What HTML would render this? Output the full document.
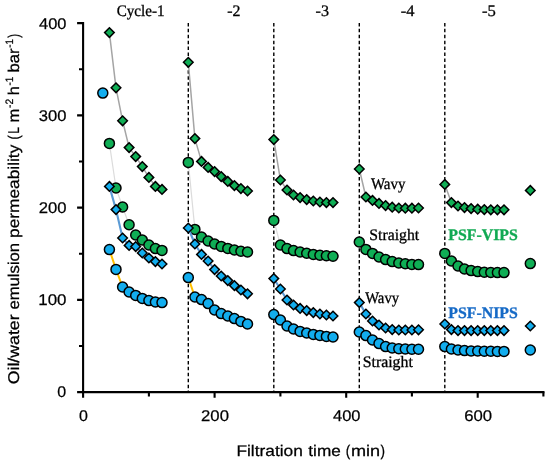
<!DOCTYPE html>
<html lang="en"><head><meta charset="utf-8"><title>Oil/water emulsion permeability</title>
<style>html,body{margin:0;padding:0;background:#fff}svg{display:block}</style></head>
<body>
<svg width="550" height="463" viewBox="0 0 550 463">
<rect width="550" height="463" fill="#fff"/>
<line x1="188.3" y1="22.9" x2="188.3" y2="391.5" stroke="#000" stroke-width="1.4" stroke-dasharray="3.5 2.43"/>
<line x1="273.8" y1="22.9" x2="273.8" y2="391.5" stroke="#000" stroke-width="1.4" stroke-dasharray="3.5 2.43"/>
<line x1="359.3" y1="22.9" x2="359.3" y2="391.5" stroke="#000" stroke-width="1.4" stroke-dasharray="3.5 2.43"/>
<line x1="444.8" y1="22.9" x2="444.8" y2="391.5" stroke="#000" stroke-width="1.4" stroke-dasharray="3.5 2.43"/>
<path d="M83.1 22.1V392.15H544.5" fill="none" stroke="#000" stroke-width="2.1" stroke-linejoin="miter"/>
<path d="M83.1 392.1h-6.0M83.1 346.0h-4.1M83.1 299.9h-6.0M83.1 253.8h-4.1M83.1 207.6h-6.0M83.1 161.5h-4.1M83.1 115.4h-6.0M83.1 69.3h-4.1M83.1 23.1h-6.0M83.1 392.15v5.5M148.9 392.15v4.3M214.6 392.15v5.5M280.4 392.15v4.3M346.2 392.15v5.5M411.9 392.15v4.3M477.7 392.15v5.5M543.4 392.15v4.3" stroke="#000" stroke-width="2.1" fill="none"/>
<polyline points="109.4,32.6 116.0,87.8 122.6,120.8 129.1,147.6 135.7,156.6 142.3,166.6 148.9,177.4 155.4,186.4 162.0,189.4" fill="none" stroke="#A5A5A5" stroke-width="1.5" stroke-linejoin="round"/>
<polyline points="188.3,62.3 194.9,138.6 201.5,161.4 208.1,167.4 214.6,171.6 221.2,176.6 227.8,181.4 234.4,185.6 240.9,188.6 247.5,191.0" fill="none" stroke="#A5A5A5" stroke-width="1.5" stroke-linejoin="round"/>
<polyline points="273.8,139.6 280.4,180.0 287.0,190.0 293.5,195.0 300.1,197.6 306.7,199.6 313.3,201.0 319.9,202.0 326.4,202.6 333.0,202.6" fill="none" stroke="#A5A5A5" stroke-width="1.5" stroke-linejoin="round"/>
<polyline points="359.3,169.0 365.9,197.0 372.5,200.4 379.0,203.4 385.6,205.6 392.2,207.2 398.8,208.0 405.3,208.2 411.9,208.2 418.5,208.0" fill="none" stroke="#A5A5A5" stroke-width="1.5" stroke-linejoin="round"/>
<polyline points="444.8,184.4 451.4,202.6 458.0,206.0 464.5,207.6 471.1,208.6 477.7,209.2 484.3,209.6 490.8,209.8 497.4,209.8 504.0,209.8" fill="none" stroke="#A5A5A5" stroke-width="1.5" stroke-linejoin="round"/>
<g fill="#0FAE55" stroke="#000" stroke-width="1.5" stroke-linejoin="miter"><path d="M109.4 27.8L114.2 32.6L109.4 37.4L104.6 32.6Z"/><path d="M116.0 83.0L120.8 87.8L116.0 92.6L111.2 87.8Z"/><path d="M122.6 116.0L127.4 120.8L122.6 125.6L117.8 120.8Z"/><path d="M129.1 142.8L133.9 147.6L129.1 152.4L124.3 147.6Z"/><path d="M135.7 151.8L140.5 156.6L135.7 161.4L130.9 156.6Z"/><path d="M142.3 161.8L147.1 166.6L142.3 171.4L137.5 166.6Z"/><path d="M148.9 172.6L153.7 177.4L148.9 182.2L144.1 177.4Z"/><path d="M155.4 181.6L160.2 186.4L155.4 191.2L150.6 186.4Z"/><path d="M162.0 184.6L166.8 189.4L162.0 194.2L157.2 189.4Z"/><path d="M188.3 57.5L193.1 62.3L188.3 67.1L183.5 62.3Z"/><path d="M194.9 133.8L199.7 138.6L194.9 143.4L190.1 138.6Z"/><path d="M201.5 156.6L206.3 161.4L201.5 166.2L196.7 161.4Z"/><path d="M208.1 162.6L212.9 167.4L208.1 172.2L203.3 167.4Z"/><path d="M214.6 166.8L219.4 171.6L214.6 176.4L209.8 171.6Z"/><path d="M221.2 171.8L226.0 176.6L221.2 181.4L216.4 176.6Z"/><path d="M227.8 176.6L232.6 181.4L227.8 186.2L223.0 181.4Z"/><path d="M234.4 180.8L239.2 185.6L234.4 190.4L229.6 185.6Z"/><path d="M240.9 183.8L245.7 188.6L240.9 193.4L236.1 188.6Z"/><path d="M247.5 186.2L252.3 191.0L247.5 195.8L242.7 191.0Z"/><path d="M273.8 134.8L278.6 139.6L273.8 144.4L269.0 139.6Z"/><path d="M280.4 175.2L285.2 180.0L280.4 184.8L275.6 180.0Z"/><path d="M287.0 185.2L291.8 190.0L287.0 194.8L282.2 190.0Z"/><path d="M293.5 190.2L298.3 195.0L293.5 199.8L288.7 195.0Z"/><path d="M300.1 192.8L304.9 197.6L300.1 202.4L295.3 197.6Z"/><path d="M306.7 194.8L311.5 199.6L306.7 204.4L301.9 199.6Z"/><path d="M313.3 196.2L318.1 201.0L313.3 205.8L308.5 201.0Z"/><path d="M319.9 197.2L324.7 202.0L319.9 206.8L315.1 202.0Z"/><path d="M326.4 197.8L331.2 202.6L326.4 207.4L321.6 202.6Z"/><path d="M333.0 197.8L337.8 202.6L333.0 207.4L328.2 202.6Z"/><path d="M359.3 164.2L364.1 169.0L359.3 173.8L354.5 169.0Z"/><path d="M365.9 192.2L370.7 197.0L365.9 201.8L361.1 197.0Z"/><path d="M372.5 195.6L377.3 200.4L372.5 205.2L367.7 200.4Z"/><path d="M379.0 198.6L383.8 203.4L379.0 208.2L374.2 203.4Z"/><path d="M385.6 200.8L390.4 205.6L385.6 210.4L380.8 205.6Z"/><path d="M392.2 202.4L397.0 207.2L392.2 212.0L387.4 207.2Z"/><path d="M398.8 203.2L403.6 208.0L398.8 212.8L394.0 208.0Z"/><path d="M405.3 203.4L410.1 208.2L405.3 213.0L400.5 208.2Z"/><path d="M411.9 203.4L416.7 208.2L411.9 213.0L407.1 208.2Z"/><path d="M418.5 203.2L423.3 208.0L418.5 212.8L413.7 208.0Z"/><path d="M444.8 179.6L449.6 184.4L444.8 189.2L440.0 184.4Z"/><path d="M451.4 197.8L456.2 202.6L451.4 207.4L446.6 202.6Z"/><path d="M458.0 201.2L462.8 206.0L458.0 210.8L453.2 206.0Z"/><path d="M464.5 202.8L469.3 207.6L464.5 212.4L459.7 207.6Z"/><path d="M471.1 203.8L475.9 208.6L471.1 213.4L466.3 208.6Z"/><path d="M477.7 204.4L482.5 209.2L477.7 214.0L472.9 209.2Z"/><path d="M484.3 204.8L489.1 209.6L484.3 214.4L479.5 209.6Z"/><path d="M490.8 205.0L495.6 209.8L490.8 214.6L486.0 209.8Z"/><path d="M497.4 205.0L502.2 209.8L497.4 214.6L492.6 209.8Z"/><path d="M504.0 205.0L508.8 209.8L504.0 214.6L499.2 209.8Z"/><path d="M530.3 185.6L535.1 190.4L530.3 195.2L525.5 190.4Z"/></g>
<polyline points="109.4,143.4 116.0,188.0 122.6,207.0 129.1,224.8 135.7,235.0 142.3,240.0 148.9,245.0 155.4,248.6 162.0,250.4" fill="none" stroke="#DCDCDC" stroke-width="1.2" stroke-linejoin="round"/>
<polyline points="188.3,162.4 194.9,229.4 201.5,237.0 208.1,241.0 214.6,244.0 221.2,246.4 227.8,248.4 234.4,250.0 240.9,251.2 247.5,252.0" fill="none" stroke="#DCDCDC" stroke-width="1.2" stroke-linejoin="round"/>
<polyline points="273.8,220.4 280.4,245.0 287.0,248.6 293.5,250.6 300.1,252.0 306.7,253.2 313.3,254.4 319.9,255.2 326.4,255.8 333.0,256.2" fill="none" stroke="#DCDCDC" stroke-width="1.2" stroke-linejoin="round"/>
<polyline points="359.3,242.0 365.9,249.4 372.5,253.4 379.0,257.0 385.6,259.6 392.2,261.6 398.8,263.0 405.3,263.8 411.9,264.4 418.5,264.6" fill="none" stroke="#DCDCDC" stroke-width="1.2" stroke-linejoin="round"/>
<polyline points="444.8,253.4 451.4,261.0 458.0,266.0 464.5,269.0 471.1,270.6 477.7,271.6 484.3,272.2 490.8,272.4 497.4,272.6 504.0,272.6" fill="none" stroke="#DCDCDC" stroke-width="1.2" stroke-linejoin="round"/>
<g fill="#0FAE55" stroke="#000" stroke-width="1.5"><circle cx="109.4" cy="143.4" r="5.0"/><circle cx="116.0" cy="188.0" r="5.0"/><circle cx="122.6" cy="207.0" r="5.0"/><circle cx="129.1" cy="224.8" r="5.0"/><circle cx="135.7" cy="235.0" r="5.0"/><circle cx="142.3" cy="240.0" r="5.0"/><circle cx="148.9" cy="245.0" r="5.0"/><circle cx="155.4" cy="248.6" r="5.0"/><circle cx="162.0" cy="250.4" r="5.0"/><circle cx="188.3" cy="162.4" r="5.0"/><circle cx="194.9" cy="229.4" r="5.0"/><circle cx="201.5" cy="237.0" r="5.0"/><circle cx="208.1" cy="241.0" r="5.0"/><circle cx="214.6" cy="244.0" r="5.0"/><circle cx="221.2" cy="246.4" r="5.0"/><circle cx="227.8" cy="248.4" r="5.0"/><circle cx="234.4" cy="250.0" r="5.0"/><circle cx="240.9" cy="251.2" r="5.0"/><circle cx="247.5" cy="252.0" r="5.0"/><circle cx="273.8" cy="220.4" r="5.0"/><circle cx="280.4" cy="245.0" r="5.0"/><circle cx="287.0" cy="248.6" r="5.0"/><circle cx="293.5" cy="250.6" r="5.0"/><circle cx="300.1" cy="252.0" r="5.0"/><circle cx="306.7" cy="253.2" r="5.0"/><circle cx="313.3" cy="254.4" r="5.0"/><circle cx="319.9" cy="255.2" r="5.0"/><circle cx="326.4" cy="255.8" r="5.0"/><circle cx="333.0" cy="256.2" r="5.0"/><circle cx="359.3" cy="242.0" r="5.0"/><circle cx="365.9" cy="249.4" r="5.0"/><circle cx="372.5" cy="253.4" r="5.0"/><circle cx="379.0" cy="257.0" r="5.0"/><circle cx="385.6" cy="259.6" r="5.0"/><circle cx="392.2" cy="261.6" r="5.0"/><circle cx="398.8" cy="263.0" r="5.0"/><circle cx="405.3" cy="263.8" r="5.0"/><circle cx="411.9" cy="264.4" r="5.0"/><circle cx="418.5" cy="264.6" r="5.0"/><circle cx="444.8" cy="253.4" r="5.0"/><circle cx="451.4" cy="261.0" r="5.0"/><circle cx="458.0" cy="266.0" r="5.0"/><circle cx="464.5" cy="269.0" r="5.0"/><circle cx="471.1" cy="270.6" r="5.0"/><circle cx="477.7" cy="271.6" r="5.0"/><circle cx="484.3" cy="272.2" r="5.0"/><circle cx="490.8" cy="272.4" r="5.0"/><circle cx="497.4" cy="272.6" r="5.0"/><circle cx="504.0" cy="272.6" r="5.0"/><circle cx="530.3" cy="263.6" r="5.0"/></g>
<polyline points="109.4,186.4 116.0,209.6 122.6,238.0 129.1,245.4 135.7,246.6 142.3,253.0 148.9,258.0 155.4,261.6 162.0,264.0" fill="none" stroke="#5B9BD5" stroke-width="2.1" stroke-linejoin="round"/>
<polyline points="188.3,228.0 194.9,244.0 201.5,254.4 208.1,261.0 214.6,269.6 221.2,276.0 227.8,280.6 234.4,285.6 240.9,290.0 247.5,293.8" fill="none" stroke="#5B9BD5" stroke-width="2.1" stroke-linejoin="round"/>
<polyline points="273.8,278.6 280.4,289.0 287.0,300.0 293.5,305.0 300.1,308.4 306.7,310.6 313.3,312.6 319.9,314.0 326.4,315.0 333.0,316.0" fill="none" stroke="#5B9BD5" stroke-width="2.1" stroke-linejoin="round"/>
<polyline points="359.3,302.6 365.9,314.0 372.5,321.0 379.0,325.0 385.6,328.0 392.2,329.6 398.8,330.0 405.3,330.0 411.9,330.0 418.5,329.8" fill="none" stroke="#5B9BD5" stroke-width="2.1" stroke-linejoin="round"/>
<polyline points="444.8,324.0 451.4,329.6 458.0,330.6 464.5,330.6 471.1,330.6 477.7,330.6 484.3,330.6 490.8,330.6 497.4,330.6 504.0,330.6" fill="none" stroke="#5B9BD5" stroke-width="2.1" stroke-linejoin="round"/>
<g fill="#12ADEE" stroke="#000" stroke-width="1.5" stroke-linejoin="miter"><path d="M109.4 181.6L114.2 186.4L109.4 191.2L104.6 186.4Z"/><path d="M116.0 204.8L120.8 209.6L116.0 214.4L111.2 209.6Z"/><path d="M122.6 233.2L127.4 238.0L122.6 242.8L117.8 238.0Z"/><path d="M129.1 240.6L133.9 245.4L129.1 250.2L124.3 245.4Z"/><path d="M135.7 241.8L140.5 246.6L135.7 251.4L130.9 246.6Z"/><path d="M142.3 248.2L147.1 253.0L142.3 257.8L137.5 253.0Z"/><path d="M148.9 253.2L153.7 258.0L148.9 262.8L144.1 258.0Z"/><path d="M155.4 256.8L160.2 261.6L155.4 266.4L150.6 261.6Z"/><path d="M162.0 259.2L166.8 264.0L162.0 268.8L157.2 264.0Z"/><path d="M188.3 223.2L193.1 228.0L188.3 232.8L183.5 228.0Z"/><path d="M194.9 239.2L199.7 244.0L194.9 248.8L190.1 244.0Z"/><path d="M201.5 249.6L206.3 254.4L201.5 259.2L196.7 254.4Z"/><path d="M208.1 256.2L212.9 261.0L208.1 265.8L203.3 261.0Z"/><path d="M214.6 264.8L219.4 269.6L214.6 274.4L209.8 269.6Z"/><path d="M221.2 271.2L226.0 276.0L221.2 280.8L216.4 276.0Z"/><path d="M227.8 275.8L232.6 280.6L227.8 285.4L223.0 280.6Z"/><path d="M234.4 280.8L239.2 285.6L234.4 290.4L229.6 285.6Z"/><path d="M240.9 285.2L245.7 290.0L240.9 294.8L236.1 290.0Z"/><path d="M247.5 289.0L252.3 293.8L247.5 298.6L242.7 293.8Z"/><path d="M273.8 273.8L278.6 278.6L273.8 283.4L269.0 278.6Z"/><path d="M280.4 284.2L285.2 289.0L280.4 293.8L275.6 289.0Z"/><path d="M287.0 295.2L291.8 300.0L287.0 304.8L282.2 300.0Z"/><path d="M293.5 300.2L298.3 305.0L293.5 309.8L288.7 305.0Z"/><path d="M300.1 303.6L304.9 308.4L300.1 313.2L295.3 308.4Z"/><path d="M306.7 305.8L311.5 310.6L306.7 315.4L301.9 310.6Z"/><path d="M313.3 307.8L318.1 312.6L313.3 317.4L308.5 312.6Z"/><path d="M319.9 309.2L324.7 314.0L319.9 318.8L315.1 314.0Z"/><path d="M326.4 310.2L331.2 315.0L326.4 319.8L321.6 315.0Z"/><path d="M333.0 311.2L337.8 316.0L333.0 320.8L328.2 316.0Z"/><path d="M359.3 297.8L364.1 302.6L359.3 307.4L354.5 302.6Z"/><path d="M365.9 309.2L370.7 314.0L365.9 318.8L361.1 314.0Z"/><path d="M372.5 316.2L377.3 321.0L372.5 325.8L367.7 321.0Z"/><path d="M379.0 320.2L383.8 325.0L379.0 329.8L374.2 325.0Z"/><path d="M385.6 323.2L390.4 328.0L385.6 332.8L380.8 328.0Z"/><path d="M392.2 324.8L397.0 329.6L392.2 334.4L387.4 329.6Z"/><path d="M398.8 325.2L403.6 330.0L398.8 334.8L394.0 330.0Z"/><path d="M405.3 325.2L410.1 330.0L405.3 334.8L400.5 330.0Z"/><path d="M411.9 325.2L416.7 330.0L411.9 334.8L407.1 330.0Z"/><path d="M418.5 325.0L423.3 329.8L418.5 334.6L413.7 329.8Z"/><path d="M444.8 319.2L449.6 324.0L444.8 328.8L440.0 324.0Z"/><path d="M451.4 324.8L456.2 329.6L451.4 334.4L446.6 329.6Z"/><path d="M458.0 325.8L462.8 330.6L458.0 335.4L453.2 330.6Z"/><path d="M464.5 325.8L469.3 330.6L464.5 335.4L459.7 330.6Z"/><path d="M471.1 325.8L475.9 330.6L471.1 335.4L466.3 330.6Z"/><path d="M477.7 325.8L482.5 330.6L477.7 335.4L472.9 330.6Z"/><path d="M484.3 325.8L489.1 330.6L484.3 335.4L479.5 330.6Z"/><path d="M490.8 325.8L495.6 330.6L490.8 335.4L486.0 330.6Z"/><path d="M497.4 325.8L502.2 330.6L497.4 335.4L492.6 330.6Z"/><path d="M504.0 325.8L508.8 330.6L504.0 335.4L499.2 330.6Z"/><path d="M530.3 321.2L535.1 326.0L530.3 330.8L525.5 326.0Z"/></g>
<polyline points="109.4,249.6 116.0,269.4 122.6,287.0 129.1,292.0 135.7,295.4 142.3,298.4 148.9,300.6 155.4,302.0 162.0,302.6" fill="none" stroke="#FFC000" stroke-width="2.0" stroke-linejoin="round"/>
<polyline points="188.3,277.6 194.9,297.0 201.5,299.6 208.1,303.6 214.6,310.0 221.2,313.6 227.8,316.0 234.4,318.6 240.9,321.4 247.5,324.0" fill="none" stroke="#FFC000" stroke-width="2.0" stroke-linejoin="round"/>
<polyline points="273.8,314.6 280.4,320.0 287.0,326.0 293.5,329.0 300.1,331.4 306.7,333.0 313.3,334.4 319.9,335.4 326.4,336.4 333.0,337.0" fill="none" stroke="#FFC000" stroke-width="2.0" stroke-linejoin="round"/>
<polyline points="359.3,332.0 365.9,335.6 372.5,340.0 379.0,343.6 385.6,346.6 392.2,348.0 398.8,348.8 405.3,349.0 411.9,349.2 418.5,349.2" fill="none" stroke="#FFC000" stroke-width="2.0" stroke-linejoin="round"/>
<polyline points="444.8,346.6 451.4,349.0 458.0,350.0 464.5,350.6 471.1,351.0 477.7,351.0 484.3,351.2 490.8,351.2 497.4,351.4 504.0,351.4" fill="none" stroke="#FFC000" stroke-width="2.0" stroke-linejoin="round"/>
<g fill="#12ADEE" stroke="#000" stroke-width="1.5"><circle cx="102.8" cy="93.1" r="5.0"/><circle cx="109.4" cy="249.6" r="5.0"/><circle cx="116.0" cy="269.4" r="5.0"/><circle cx="122.6" cy="287.0" r="5.0"/><circle cx="129.1" cy="292.0" r="5.0"/><circle cx="135.7" cy="295.4" r="5.0"/><circle cx="142.3" cy="298.4" r="5.0"/><circle cx="148.9" cy="300.6" r="5.0"/><circle cx="155.4" cy="302.0" r="5.0"/><circle cx="162.0" cy="302.6" r="5.0"/><circle cx="188.3" cy="277.6" r="5.0"/><circle cx="194.9" cy="297.0" r="5.0"/><circle cx="201.5" cy="299.6" r="5.0"/><circle cx="208.1" cy="303.6" r="5.0"/><circle cx="214.6" cy="310.0" r="5.0"/><circle cx="221.2" cy="313.6" r="5.0"/><circle cx="227.8" cy="316.0" r="5.0"/><circle cx="234.4" cy="318.6" r="5.0"/><circle cx="240.9" cy="321.4" r="5.0"/><circle cx="247.5" cy="324.0" r="5.0"/><circle cx="273.8" cy="314.6" r="5.0"/><circle cx="280.4" cy="320.0" r="5.0"/><circle cx="287.0" cy="326.0" r="5.0"/><circle cx="293.5" cy="329.0" r="5.0"/><circle cx="300.1" cy="331.4" r="5.0"/><circle cx="306.7" cy="333.0" r="5.0"/><circle cx="313.3" cy="334.4" r="5.0"/><circle cx="319.9" cy="335.4" r="5.0"/><circle cx="326.4" cy="336.4" r="5.0"/><circle cx="333.0" cy="337.0" r="5.0"/><circle cx="359.3" cy="332.0" r="5.0"/><circle cx="365.9" cy="335.6" r="5.0"/><circle cx="372.5" cy="340.0" r="5.0"/><circle cx="379.0" cy="343.6" r="5.0"/><circle cx="385.6" cy="346.6" r="5.0"/><circle cx="392.2" cy="348.0" r="5.0"/><circle cx="398.8" cy="348.8" r="5.0"/><circle cx="405.3" cy="349.0" r="5.0"/><circle cx="411.9" cy="349.2" r="5.0"/><circle cx="418.5" cy="349.2" r="5.0"/><circle cx="444.8" cy="346.6" r="5.0"/><circle cx="451.4" cy="349.0" r="5.0"/><circle cx="458.0" cy="350.0" r="5.0"/><circle cx="464.5" cy="350.6" r="5.0"/><circle cx="471.1" cy="351.0" r="5.0"/><circle cx="477.7" cy="351.0" r="5.0"/><circle cx="484.3" cy="351.2" r="5.0"/><circle cx="490.8" cy="351.2" r="5.0"/><circle cx="497.4" cy="351.4" r="5.0"/><circle cx="504.0" cy="351.4" r="5.0"/><circle cx="530.3" cy="350.0" r="5.0"/></g>
<g fill="#000" style="text-rendering:geometricPrecision"><text transform="matrix(1.0902 0.0004 0 1 38.27 305.45)" font-family="Liberation Sans, sans-serif" font-size="15.5" stroke="#000" stroke-width="0.25">100</text>
<text transform="matrix(1.0735 0.0004 0 1 38.69 213.20)" font-family="Liberation Sans, sans-serif" font-size="15.5" stroke="#000" stroke-width="0.25">200</text>
<text transform="matrix(1.0680 0.0004 0 1 38.83 120.95)" font-family="Liberation Sans, sans-serif" font-size="15.5" stroke="#000" stroke-width="0.25">300</text>
<text transform="matrix(1.0573 0.0004 0 1 39.10 28.70)" font-family="Liberation Sans, sans-serif" font-size="15.5" stroke="#000" stroke-width="0.25">400</text>
<text transform="matrix(1.0305 0.0004 0 1 57.36 397.35)" font-family="Liberation Sans, sans-serif" font-size="15.5" stroke="#000" stroke-width="0.25">0</text>
<text transform="matrix(1.0776 0.0004 0 1 201.07 420.65)" font-family="Liberation Sans, sans-serif" font-size="15.5" stroke="#000" stroke-width="0.25">200</text>
<text transform="matrix(1.0613 0.0004 0 1 333.01 420.65)" font-family="Liberation Sans, sans-serif" font-size="15.5" stroke="#000" stroke-width="0.25">400</text>
<text transform="matrix(1.0776 0.0004 0 1 464.13 420.65)" font-family="Liberation Sans, sans-serif" font-size="15.5" stroke="#000" stroke-width="0.25">600</text>
<text transform="matrix(1.0305 0.0004 0 1 78.91 420.50)" font-family="Liberation Sans, sans-serif" font-size="15.5" stroke="#000" stroke-width="0.25">0</text>
<text transform="matrix(1.1260 0.0004 0 1 236.39 456.20)" font-family="Liberation Sans, sans-serif" font-size="15.4" stroke="#000" stroke-width="0.25">Filtration</text>
<text transform="matrix(1.1164 0.0004 0 1 308.32 456.20)" font-family="Liberation Sans, sans-serif" font-size="15.4" stroke="#000" stroke-width="0.25">time</text>
<text transform="matrix(0.8750 0.0004 0 1 345.73 456.20)" font-family="Liberation Sans, sans-serif" font-size="15.4" stroke="#000" stroke-width="0.25">(</text>
<text transform="matrix(1.1760 0.0004 0 1 350.92 456.20)" font-family="Liberation Sans, sans-serif" font-size="15.4" stroke="#000" stroke-width="0.25">min</text>
<text transform="matrix(0.8750 0.0004 0 1 380.39 456.20)" font-family="Liberation Sans, sans-serif" font-size="15.4" stroke="#000" stroke-width="0.25">)</text>
<text transform="matrix(0.9445 0.0004 0 1 116.71 15.90)" font-family="Liberation Serif, serif" font-size="16" stroke="#000" stroke-width="0.3">Cycle-1</text>
<text transform="matrix(0.9937 0.0004 0 1 227.18 15.90)" font-family="Liberation Serif, serif" font-size="16" stroke="#000" stroke-width="0.3">-2</text>
<text transform="matrix(1.0062 0.0004 0 1 315.57 15.90)" font-family="Liberation Serif, serif" font-size="16" stroke="#000" stroke-width="0.3">-3</text>
<text transform="matrix(1.0320 0.0004 0 1 400.75 15.90)" font-family="Liberation Serif, serif" font-size="16" stroke="#000" stroke-width="0.3">-4</text>
<text transform="matrix(1.0392 0.0004 0 1 482.05 15.90)" font-family="Liberation Serif, serif" font-size="16" stroke="#000" stroke-width="0.3">-5</text>
<text transform="matrix(0.9356 0.0004 0 1 370.90 188.60)" font-family="Liberation Serif, serif" font-size="16" stroke="#000" stroke-width="0.3">Wavy</text>
<text transform="matrix(0.9838 0.0004 0 1 369.29 239.80)" font-family="Liberation Serif, serif" font-size="16" stroke="#000" stroke-width="0.3">Straight</text>
<text transform="matrix(0.9166 0.0004 0 1 365.20 303.40)" font-family="Liberation Serif, serif" font-size="16" stroke="#000" stroke-width="0.3">Wavy</text>
<text transform="matrix(0.9899 0.0004 0 1 362.69 367.00)" font-family="Liberation Serif, serif" font-size="16" stroke="#000" stroke-width="0.3">Straight</text>
<text transform="matrix(0.9892 0.0004 0 1 448.35 239.90)" font-family="Liberation Serif, serif" font-size="16" font-weight="bold" fill="#10A952" stroke="#10A952" stroke-width="0.3">PSF-VIPS</text>
<text transform="matrix(0.9892 0.0004 0 1 448.35 317.70)" font-family="Liberation Serif, serif" font-size="16" font-weight="bold" fill="#1469C6" stroke="#1469C6" stroke-width="0.3">PSF-NIPS</text></g>
<g transform="translate(18.9 383.65) rotate(-90)" fill="#000" style="text-rendering:geometricPrecision"><text transform="matrix(1.1355 0.0004 0 1 -0.65 0.00)" font-family="Liberation Sans, sans-serif" font-size="15.6" stroke="#000" stroke-width="0.25">Oil/water</text>
<text transform="matrix(1.0700 0.0004 0 1 74.03 0.00)" font-family="Liberation Sans, sans-serif" font-size="15.6" stroke="#000" stroke-width="0.25">emulsion</text>
<text transform="matrix(1.1096 0.0004 0 1 145.69 0.00)" font-family="Liberation Sans, sans-serif" font-size="15.6" stroke="#000" stroke-width="0.25">permeability</text>
<text transform="matrix(0.8250 0.0004 0 1 244.18 0.00)" font-family="Liberation Sans, sans-serif" font-size="15.6" stroke="#000" stroke-width="0.25">(</text>
<text transform="matrix(0.7709 0.0004 0 1 249.84 0.00)" font-family="Liberation Sans, sans-serif" font-size="15.6" stroke="#000" stroke-width="0.25">L</text>
<text transform="matrix(1.0636 0.0004 0 1 261.14 0.00)" font-family="Liberation Sans, sans-serif" font-size="15.6" stroke="#000" stroke-width="0.25">m</text>
<text transform="matrix(1.0462 0.0004 0 1 288.32 0.00)" font-family="Liberation Sans, sans-serif" font-size="15.6" stroke="#000" stroke-width="0.25">h</text>
<text transform="matrix(1.0682 0.0004 0 1 311.03 0.00)" font-family="Liberation Sans, sans-serif" font-size="15.6" stroke="#000" stroke-width="0.25">bar</text>
<text transform="matrix(0.7758 0.0004 0 1 346.00 0.00)" font-family="Liberation Sans, sans-serif" font-size="15.6" stroke="#000" stroke-width="0.25">)</text>
<text transform="matrix(0.9529 0.0004 0 1 275.72 -5.80)" font-family="Liberation Sans, sans-serif" font-size="10.8" stroke="#000" stroke-width="0.25">-2</text>
<text transform="matrix(0.9043 0.0004 0 1 298.15 -5.80)" font-family="Liberation Sans, sans-serif" font-size="10.8" stroke="#000" stroke-width="0.25">-1</text>
<text transform="matrix(0.9043 0.0004 0 1 335.95 -5.80)" font-family="Liberation Sans, sans-serif" font-size="10.8" stroke="#000" stroke-width="0.25">-1</text></g>
</svg>
</body></html>
